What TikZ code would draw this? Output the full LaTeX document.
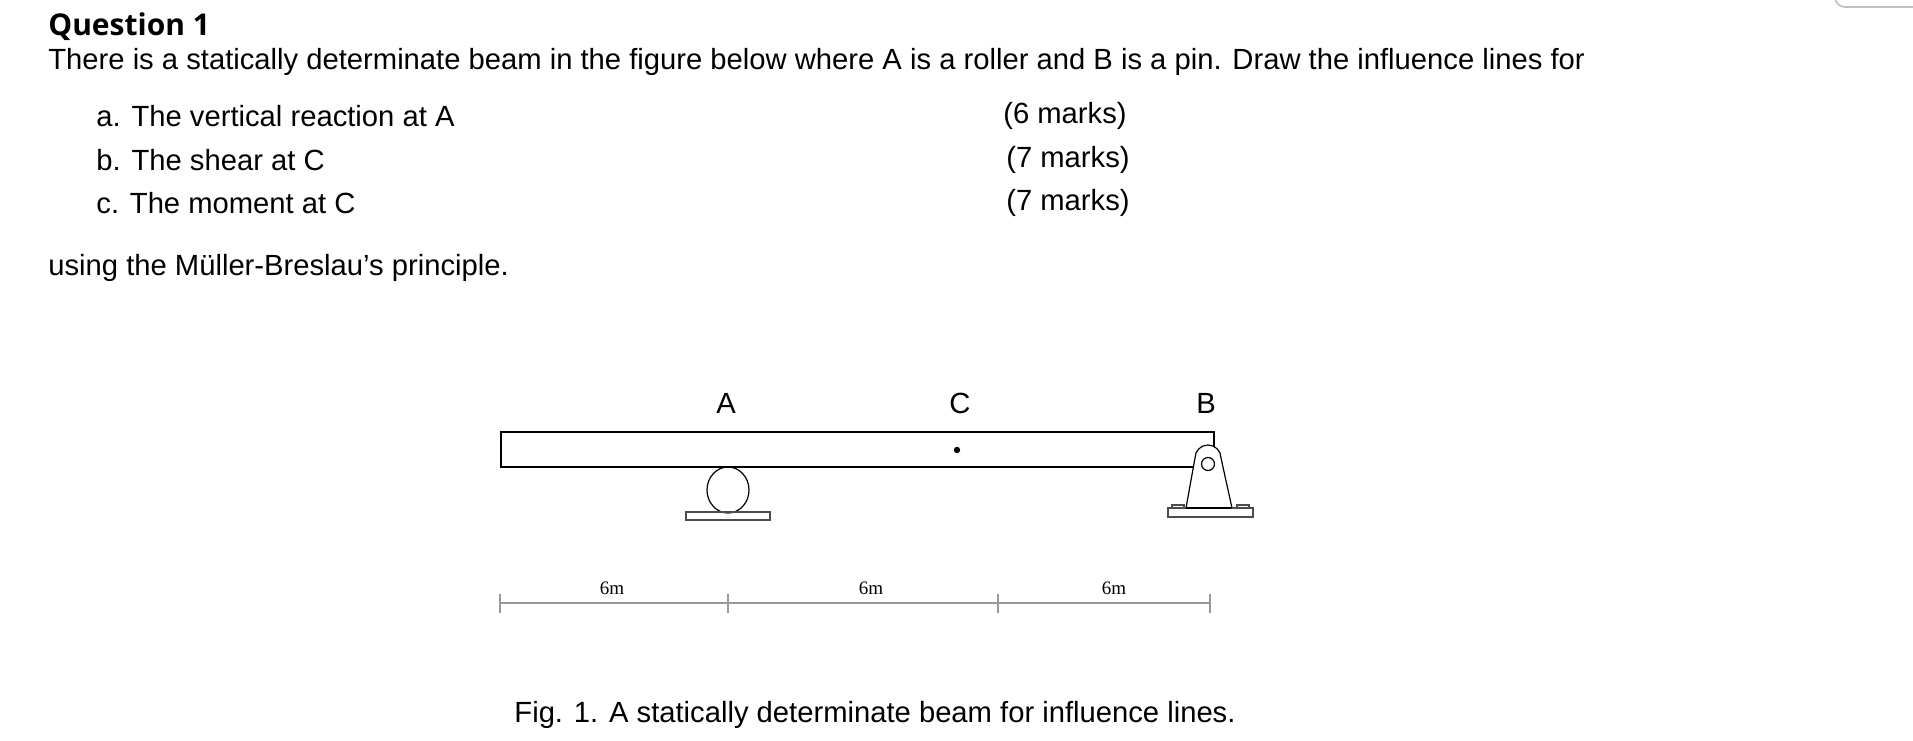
\documentclass[tikz,border=0pt]{standalone}
\usepackage{fontspec}
\setmainfont{Liberation Sans}
\newfontfamily\qfont{Open Sans}
\newfontfamily\serifnum{Liberation Serif}
\begin{document}
\begin{tikzpicture}[x=0.5pt,y=-0.5pt,
  body/.style={anchor=west,inner sep=0pt,font=\fontsize{14.6pt}{17pt}\selectfont},
  lbl/.style={inner sep=0pt,font=\fontsize{14.6pt}{17pt}\selectfont},
  dim/.style={draw=gray!80,line width=0.6pt},
  dimlbl/.style={inner sep=0pt,font=\serifnum\fontsize{9.5pt}{11pt}\selectfont},
  ln/.style={line width=0.6pt}]
\useasboundingbox (0,0) rectangle (1913,740);
\draw[gray!50,line width=0.8pt,rounded corners=5pt] (1835,-10) -- (1835,7) -- (1930,7);
\node[anchor=west,inner sep=0pt,font=\qfont\bfseries\fontsize{15pt}{18pt}\selectfont] (q) at (48,27) {Question 1};
\node[body] (t1) at (48,62) {There is a statically determinate beam in the figure below where A is a roller and B is a pin. Draw the influence lines for};
\node[body] (a) at (96,116) {a. The vertical reaction at A};
\node[body] (b) at (96,160) {b. The shear at C};
\node[body] (c) at (96,203) {c. The moment at C};
\node[lbl] (ma) at (1065,116) {(6 marks)};
\node[lbl] (mb) at (1068,160) {(7 marks)};
\node[lbl] (mc) at (1068,203) {(7 marks)};
\node[body] (u) at (48,268) {using the Müller-Breslau’s principle.};
% beam
\draw[ln] (501,432) rectangle (1214,467);
\node[lbl] (A) at (726,403) {A};
\node[lbl] (C) at (960,403) {C};
\node[lbl] (B) at (1206,403) {B};
\fill (957,450) circle (3.2);
% roller
\draw[ln] (728,490) ellipse (21 and 23);
\draw[ln,draw=black!70] (686,512) rectangle (770,520);
% pin
\draw[ln,fill=white] (1186,508) -- (1195,458) arc (180:360:13) -- (1232,508);
\draw[ln] (1208,464) circle (6.5);
\draw[ln,draw=black!70] (1168,508) rectangle (1253,517);
\draw[ln,draw=black!70] (1172,505) rectangle (1184,508);
\draw[ln,draw=black!70] (1237,505) rectangle (1249,508);
\draw[ln] (1186,508) -- (1232,508);
% dimensions
\draw[dim] (500,603) -- (1210,603);
\foreach \x in {500,728,998,1210} \draw[dim] (\x,594) -- (\x,613);
\node[dimlbl] at (612,588) {6m};
\node[dimlbl] at (871,588) {6m};
\node[dimlbl] at (1114,588) {6m};
\node[lbl] (cap) at (875,715) {Fig. 1. A statically determinate beam for influence lines.};
\end{tikzpicture}
\end{document}
